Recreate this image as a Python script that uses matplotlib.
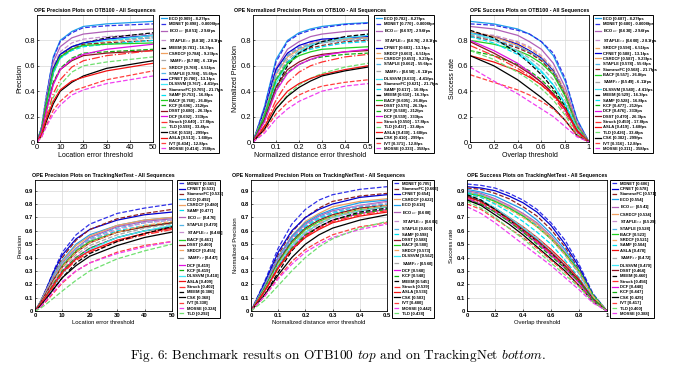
import matplotlib
matplotlib.use('Agg')
import matplotlib.pyplot as plt

plt.rcParams['font.family'] = ['Liberation Sans', 'DejaVu Sans']
plt.rcParams['mathtext.fontset'] = 'cm'

# ---------------- tracker styles ----------------
styles = {
    'ECO': ('#1EA0EA', '-'), 'MDNET': ('#3030E8', '--'), 'ECO_HC': ('#B060B8', '-'),
    'STAPLE_CA': ('#C890D0', '--'), 'MEEM': ('#000000', '--'), 'CSRDCF': ('#F0A060', '-'),
    'SAMF_AT': ('#A8A8A8', '--'), 'SRDCF': ('#F4A460', '--'), 'STAPLE': ('#50B4E8', '--'),
    'CFNET': ('#0000D0', '-'), 'DLSSVM': ('#40E8F8', '-'), 'SiameseFC': ('#902020', '--'),
    'SAMF': ('#00E0F0', '--'), 'BACF': ('#20D020', '-'), 'KCF': ('#10B010', '--'),
    'DSST': ('#901020', '-'), 'DCF': ('#E010E0', '-'), 'Struck': ('#FF3030', '-.'),
    'TLD': ('#70E070', '--'), 'CSK': ('#000000', '-'), 'ASLA': ('#F01010', '-'),
    'IVT': ('#FF4040', '--'), 'MOSSE': ('#F040F0', '--'),
}
fps = {
    'ECO': '8.27', 'MDNET': '0.8008', 'ECO_HC': '29.6', 'STAPLE_CA': '28.1', 'MEEM': '16.3',
    'CSRDCF': '9.23', 'SAMF_AT': '6.11', 'SRDCF': '6.51', 'STAPLE': '55.6', 'CFNET': '13.1',
    'DLSSVM': '4.41', 'SiameseFC': '21.7', 'SAMF': '16.8', 'BACF': '26.8', 'KCF': '212',
    'DSST': '26.3', 'DCF': '333', 'Struck': '17.8', 'TLD': '33.4', 'CSK': '299',
    'ASLA': '1.68', 'IVT': '12.8', 'MOSSE': '358',
}
display = {'ECO_HC': 'ECO$_{HC}$', 'STAPLE_CA': 'STAPLE$_{CA}$', 'SAMF_AT': 'SAMF$_{AT}$'}

# ---------------- OTB100 precision ----------------
x_otb_prec = [0, 2, 4, 7, 10, 15, 20, 30, 50]
otb_prec_names = ['ECO', 'MDNET', 'ECO_HC', 'STAPLE_CA', 'MEEM', 'CSRDCF', 'SAMF_AT', 'SRDCF',
                  'STAPLE', 'CFNET', 'DLSSVM', 'SiameseFC', 'SAMF', 'BACF', 'KCF', 'DSST', 'DCF',
                  'Struck', 'TLD', 'CSK', 'ASLA', 'IVT', 'MOSSE']
otb_prec_scores = [0.909, 0.898, 0.851, 0.810, 0.781, 0.784, 0.780, 0.768, 0.784, 0.780, 0.767,
                   0.765, 0.753, 0.760, 0.696, 0.680, 0.692, 0.640, 0.598, 0.518, 0.513, 0.434, 0.414]
otb_prec_curves = [
    [0, .12, .36, .67, .80, .87, .91, .93, .95],
    [0, .12, .36, .66, .79, .86, .90, .915, .93],
    [0, .11, .34, .63, .75, .82, .85, .87, .89],
    [0, .10, .32, .60, .71, .78, .81, .83, .85],
    [0, .09, .28, .54, .67, .75, .78, .82, .86],
    [0, .10, .31, .58, .69, .75, .78, .81, .84],
    [0, .10, .31, .58, .69, .75, .78, .80, .83],
    [0, .10, .31, .57, .68, .74, .77, .79, .82],
    [0, .10, .31, .58, .69, .75, .78, .80, .82],
    [0, .10, .31, .58, .69, .75, .78, .81, .84],
    [0, .09, .28, .54, .66, .73, .77, .80, .84],
    [0, .10, .30, .56, .67, .73, .77, .78, .80],
    [0, .09, .29, .55, .66, .72, .75, .77, .80],
    [0, .10, .30, .56, .67, .73, .76, .77, .78],
    [0, .08, .25, .47, .58, .66, .70, .71, .73],
    [0, .08, .25, .46, .57, .64, .68, .70, .72],
    [0, .08, .24, .45, .57, .65, .69, .73, .77],
    [0, .06, .20, .38, .49, .59, .64, .68, .72],
    [0, .06, .18, .35, .45, .55, .60, .63, .67],
    [0, .05, .16, .30, .40, .47, .52, .58, .64],
    [0, .06, .18, .32, .41, .48, .51, .56, .62],
    [0, .04, .13, .25, .32, .40, .43, .49, .56],
    [0, .04, .12, .22, .29, .37, .41, .46, .52],
]

# ---------------- OTB100 normalized precision ----------------
x_otb_norm = [0, .05, .1, .15, .2, .25, .3, .4, .5]
otb_norm_names = ['ECO', 'MDNET', 'ECO_HC', 'STAPLE_CA', 'CFNET', 'SRDCF', 'CSRDCF', 'STAPLE',
                  'SAMF_AT', 'DLSSVM', 'SiameseFC', 'SAMF', 'MEEM', 'BACF', 'DSST', 'KCF', 'DCF',
                  'Struck', 'TLD', 'ASLA', 'CSK', 'IVT', 'MOSSE']
otb_norm_scores = [0.782, 0.770, 0.697, 0.676, 0.683, 0.663, 0.653, 0.662, 0.650, 0.633, 0.621,
                   0.617, 0.610, 0.605, 0.575, 0.560, 0.559, 0.550, 0.437, 0.430, 0.410, 0.371, 0.333]
otb_norm_curves = [
    [0, .28, .65, .80, .86, .89, .91, .93, .94],
    [0, .27, .63, .79, .85, .88, .90, .925, .935],
    [0, .25, .58, .73, .79, .83, .85, .87, .88],
    [0, .24, .55, .69, .75, .78, .80, .82, .83],
    [0, .25, .57, .70, .76, .79, .81, .82, .83],
    [0, .23, .54, .68, .74, .77, .79, .81, .82],
    [0, .22, .53, .67, .73, .77, .79, .81, .82],
    [0, .23, .54, .68, .74, .77, .78, .80, .81],
    [0, .21, .50, .65, .72, .76, .78, .81, .82],
    [0, .19, .46, .62, .71, .76, .79, .82, .84],
    [0, .21, .49, .63, .70, .74, .76, .79, .80],
    [0, .21, .49, .63, .70, .73, .75, .78, .79],
    [0, .17, .43, .60, .70, .75, .79, .83, .85],
    [0, .21, .49, .62, .68, .71, .73, .74, .75],
    [0, .18, .43, .57, .63, .67, .69, .71, .72],
    [0, .17, .41, .55, .61, .65, .67, .69, .70],
    [0, .16, .40, .54, .61, .65, .68, .71, .73],
    [0, .13, .33, .47, .55, .60, .63, .67, .69],
    [0, .10, .26, .37, .45, .50, .54, .59, .62],
    [0, .12, .29, .40, .46, .50, .53, .57, .60],
    [0, .10, .26, .36, .43, .48, .52, .56, .59],
    [0, .09, .22, .31, .37, .41, .44, .47, .49],
    [0, .07, .18, .26, .32, .36, .40, .44, .46],
]

# ---------------- OTB100 success ----------------
x_otb_succ = [0, .2, .4, .5, .6, .7, .8, .9, 1]
otb_succ_names = ['ECO', 'MDNET', 'ECO_HC', 'STAPLE_CA', 'SRDCF', 'CFNET', 'CSRDCF', 'STAPLE',
                  'SiameseFC', 'BACF', 'SAMF_AT', 'DLSSVM', 'MEEM', 'SAMF', 'KCF', 'DCF', 'DSST',
                  'Struck', 'ASLA', 'TLD', 'CSK', 'IVT', 'MOSSE']
otb_succ_scores = [0.687, 0.680, 0.630, 0.600, 0.598, 0.588, 0.587, 0.578, 0.568, 0.557, 0.549,
                   0.540, 0.529, 0.528, 0.477, 0.476, 0.470, 0.459, 0.419, 0.426, 0.382, 0.316, 0.311]
otb_succ_curves = [
    [.95, .93, .89, .85, .79, .68, .48, .18, 0],
    [.93, .92, .88, .85, .79, .70, .50, .17, 0],
    [.91, .89, .84, .79, .73, .62, .43, .15, 0],
    [.86, .84, .79, .75, .68, .58, .40, .14, 0],
    [.85, .83, .78, .74, .67, .57, .40, .14, 0],
    [.86, .83, .77, .72, .66, .56, .38, .13, 0],
    [.87, .83, .76, .71, .65, .55, .38, .13, 0],
    [.84, .81, .75, .71, .65, .55, .37, .12, 0],
    [.83, .80, .74, .70, .64, .54, .37, .12, 0],
    [.80, .77, .72, .68, .62, .53, .36, .12, 0],
    [.85, .80, .72, .66, .59, .49, .33, .11, 0],
    [.86, .81, .71, .64, .56, .45, .30, .09, 0],
    [.88, .82, .70, .62, .53, .42, .28, .08, 0],
    [.83, .78, .69, .63, .55, .45, .30, .10, 0],
    [.72, .68, .61, .56, .49, .40, .27, .09, 0],
    [.80, .72, .62, .55, .47, .38, .25, .08, 0],
    [.79, .70, .60, .54, .47, .38, .26, .09, 0],
    [.76, .68, .58, .52, .45, .36, .23, .07, 0],
    [.68, .63, .56, .51, .45, .37, .26, .09, 0],
    [.72, .65, .55, .49, .42, .33, .21, .06, 0],
    [.68, .60, .49, .42, .35, .27, .17, .05, 0],
    [.53, .47, .41, .37, .32, .26, .17, .05, 0],
    [.59, .48, .38, .32, .26, .20, .12, .04, 0],
]

# ---------------- TrackingNet precision ----------------
x_tn_prec = [0, 2, 4, 7, 10, 15, 20, 30, 40, 50]
tn_prec_names = ['MDNET', 'CFNET', 'SiameseFC', 'ECO', 'CSRDCF', 'SAMF', 'ECO_HC', 'STAPLE',
                 'STAPLE_CA', 'BACF', 'DSST', 'SRDCF', 'SAMF_AT', 'DCF', 'KCF', 'DLSSVM', 'ASLA',
                 'Struck', 'MEEM', 'CSK', 'IVT', 'MOSSE', 'TLD']
tn_prec_scores = [0.565, 0.533, 0.533, 0.492, 0.480, 0.477, 0.476, 0.470, 0.468, 0.461, 0.460,
                  0.455, 0.447, 0.419, 0.419, 0.418, 0.409, 0.402, 0.386, 0.368, 0.330, 0.324, 0.292]
tn_prec_curves = [
    [0, .07, .16, .31, .44, .57, .65, .73, .77, .80],
    [0, .07, .16, .30, .42, .54, .61, .68, .72, .74],
    [0, .06, .14, .28, .40, .53, .61, .69, .73, .76],
    [0, .07, .15, .28, .38, .50, .57, .64, .68, .70],
    [0, .07, .15, .27, .37, .49, .56, .64, .68, .70],
    [0, .06, .14, .25, .35, .46, .53, .60, .64, .66],
    [0, .06, .14, .26, .36, .47, .55, .63, .67, .69],
    [0, .06, .14, .26, .36, .47, .54, .62, .66, .68],
    [0, .06, .14, .25, .35, .46, .53, .61, .66, .68],
    [0, .06, .13, .24, .34, .45, .52, .59, .63, .66],
    [0, .06, .13, .24, .33, .44, .51, .59, .63, .66],
    [0, .05, .12, .23, .33, .44, .51, .59, .64, .67],
    [0, .05, .12, .22, .31, .42, .49, .57, .62, .65],
    [0, .05, .11, .21, .30, .40, .47, .55, .60, .63],
    [0, .05, .11, .21, .30, .40, .47, .55, .60, .63],
    [0, .04, .10, .19, .28, .39, .46, .55, .60, .64],
    [0, .05, .11, .20, .29, .39, .45, .53, .58, .62],
    [0, .05, .10, .19, .28, .38, .44, .52, .57, .61],
    [0, .03, .08, .17, .25, .36, .43, .52, .58, .63],
    [0, .04, .09, .17, .25, .34, .41, .49, .55, .59],
    [0, .03, .07, .14, .21, .30, .36, .44, .49, .52],
    [0, .03, .08, .15, .22, .30, .36, .43, .48, .52],
    [0, .02, .05, .10, .15, .23, .30, .39, .45, .50],
]

# ---------------- TrackingNet normalized precision ----------------
x_tn_norm = [0, .05, .1, .15, .2, .25, .3, .4, .5]
tn_norm_names = ['MDNET', 'SiameseFC', 'CFNET', 'CSRDCF', 'ECO', 'ECO_HC', 'STAPLE_CA', 'STAPLE',
                 'SAMF', 'DSST', 'BACF', 'SRDCF', 'DLSSVM', 'SAMF_AT', 'DCF', 'KCF', 'MEEM',
                 'Struck', 'ASLA', 'CSK', 'IVT', 'MOSSE', 'TLD']
tn_norm_scores = [0.705, 0.663, 0.654, 0.622, 0.618, 0.608, 0.605, 0.603, 0.598, 0.588, 0.580,
                  0.573, 0.562, 0.560, 0.548, 0.548, 0.545, 0.539, 0.536, 0.503, 0.480, 0.442, 0.438]
tn_norm_curves = [
    [0, .22, .47, .65, .76, .83, .87, .91, .93],
    [0, .19, .42, .59, .70, .77, .82, .86, .88],
    [0, .21, .44, .60, .70, .76, .80, .85, .87],
    [0, .19, .40, .56, .67, .73, .78, .82, .84],
    [0, .19, .40, .56, .66, .72, .76, .81, .83],
    [0, .18, .39, .55, .65, .71, .75, .79, .82],
    [0, .18, .39, .54, .64, .70, .74, .79, .81],
    [0, .18, .38, .54, .64, .70, .74, .78, .80],
    [0, .17, .37, .53, .63, .69, .73, .77, .79],
    [0, .17, .37, .52, .62, .68, .72, .77, .79],
    [0, .17, .36, .51, .61, .67, .71, .76, .78],
    [0, .16, .35, .50, .60, .66, .71, .76, .79],
    [0, .15, .34, .49, .59, .65, .70, .75, .78],
    [0, .15, .33, .48, .58, .65, .70, .75, .78],
    [0, .15, .33, .47, .57, .63, .68, .73, .76],
    [0, .15, .33, .47, .57, .63, .68, .73, .76],
    [0, .12, .29, .45, .56, .63, .68, .74, .77],
    [0, .14, .32, .46, .56, .62, .67, .72, .75],
    [0, .15, .32, .46, .55, .61, .66, .71, .74],
    [0, .12, .27, .40, .50, .57, .62, .68, .72],
    [0, .11, .25, .37, .46, .52, .57, .63, .66],
    [0, .11, .24, .35, .44, .50, .55, .61, .65],
    [0, .08, .19, .30, .40, .48, .54, .62, .67],
]

# ---------------- TrackingNet success ----------------
x_tn_succ = [0, .1, .2, .3, .4, .5, .6, .7, .8, .9, 1]
tn_succ_names = ['MDNET', 'CFNET', 'SiameseFC', 'ECO', 'ECO_HC', 'CSRDCF', 'STAPLE_CA', 'STAPLE',
                 'BACF', 'SRDCF', 'SAMF', 'ASLA', 'SAMF_AT', 'DLSSVM', 'DSST', 'MEEM', 'Struck',
                 'DCF', 'KCF', 'CSK', 'IVT', 'TLD', 'MOSSE']
tn_succ_scores = [0.606, 0.578, 0.571, 0.554, 0.541, 0.534, 0.529, 0.528, 0.523, 0.521, 0.504,
                  0.478, 0.472, 0.470, 0.464, 0.460, 0.456, 0.448, 0.447, 0.429, 0.417, 0.400, 0.388]
tn_succ_curves = [
    [.95, .94, .92, .88, .83, .76, .66, .53, .35, .13, 0],
    [.93, .92, .90, .86, .81, .74, .64, .50, .33, .12, 0],
    [.92, .91, .88, .84, .78, .71, .61, .48, .31, .11, 0],
    [.91, .89, .86, .81, .76, .68, .58, .46, .30, .11, 0],
    [.90, .88, .84, .79, .73, .66, .56, .44, .29, .10, 0],
    [.89, .87, .83, .78, .72, .65, .55, .43, .29, .11, 0],
    [.89, .87, .83, .78, .72, .64, .54, .42, .28, .10, 0],
    [.89, .87, .82, .77, .71, .64, .54, .42, .28, .10, 0],
    [.88, .86, .82, .77, .71, .63, .54, .43, .30, .12, 0],
    [.87, .85, .81, .76, .70, .63, .54, .42, .29, .11, 0],
    [.88, .85, .80, .74, .67, .59, .50, .38, .25, .09, 0],
    [.85, .82, .77, .70, .63, .55, .46, .36, .24, .09, 0],
    [.86, .83, .77, .70, .63, .55, .45, .35, .23, .08, 0],
    [.87, .83, .77, .70, .62, .54, .44, .34, .22, .08, 0],
    [.86, .82, .76, .69, .61, .53, .44, .34, .23, .09, 0],
    [.87, .83, .76, .68, .60, .52, .43, .33, .22, .08, 0],
    [.84, .81, .75, .68, .60, .52, .43, .33, .22, .08, 0],
    [.84, .80, .74, .67, .59, .51, .42, .32, .21, .08, 0],
    [.83, .80, .74, .67, .59, .50, .41, .32, .22, .09, 0],
    [.83, .79, .72, .65, .57, .48, .39, .30, .19, .07, 0],
    [.80, .76, .69, .62, .55, .47, .38, .29, .19, .07, 0],
    [.82, .77, .70, .62, .54, .45, .36, .27, .18, .07, 0],
    [.78, .73, .66, .58, .50, .42, .34, .25, .16, .06, 0],
]

W, H = 677, 380
fig = plt.figure(figsize=(W / 100, H / 100), dpi=100)


def frac(x0, y0, x1, y1):
    # pixel box (top-left origin) -> figure fraction rect
    return [x0 / W, 1 - y1 / H, (x1 - x0) / W, (y1 - y0) / H]


def panel(ax_box, leg_box, x, names, scores, curves, title, xlabel, ylabel,
          xticks, xticklabels, yticks, ylim, with_fps, bottom_row):
    ax = fig.add_axes(frac(*ax_box))
    for n, s, y in zip(names, scores, curves):
        c, ls = styles[n]
        lab = '%s [%.3f]' % (display.get(n, n), s)
        if with_fps:
            lab += ' - %sfps' % fps[n]
        ax.plot(x, y, color=c, linestyle=ls, lw=0.9, label=lab)
    ax.set_xlim(x[0], x[-1])
    ax.set_ylim(*ylim)
    ax.set_xticks(xticks)
    ax.set_xticklabels(xticklabels)
    ax.set_yticks(yticks)
    ax.set_yticklabels(['0'] + ['%.1f' % v for v in yticks[1:]])
    ax.grid(True, color='#d8d8d8', lw=0.5)
    ax.set_axisbelow(True)
    for sp in ax.spines.values():
        sp.set_linewidth(0.6)
    if bottom_row:
        ax.tick_params(labelsize=4.2, length=1.5, width=0.4, direction='in', pad=1.5)
        for t in ax.get_xticklabels() + ax.get_yticklabels():
            t.set_fontweight('bold')
        ax.set_xlabel(xlabel, fontsize=4.2, labelpad=1.5)
        ax.set_ylabel(ylabel, fontsize=4.2, labelpad=1.5)
    else:
        ax.tick_params(labelsize=5.5, length=1.5, width=0.4, direction='in', pad=1.5)
        ax.set_xlabel(xlabel, fontsize=5, labelpad=1)
        ax.set_ylabel(ylabel, fontsize=5, labelpad=1)
    ax.set_title(title, fontsize=3.8, fontweight='bold', pad=2)
    lb = frac(*leg_box)
    leg = ax.legend(loc='upper left', bbox_to_anchor=lb, bbox_transform=fig.transFigure,
                    mode='expand', borderaxespad=0, labelspacing=0.33,
                    handlelength=1.6, handletextpad=0.4, borderpad=0.4, fancybox=False,
                    framealpha=1, edgecolor='black', prop={'weight': 'bold', 'size': 3.0})
    leg.get_frame().set_linewidth(0.7)
    return ax


top = (15, 142)
bot = (180, 311)
prec_ticks = [0, 10, 20, 30, 40, 50]
norm_ticks = [0, 0.1, 0.2, 0.3, 0.4, 0.5]
succ_ticks = [0, 0.2, 0.4, 0.6, 0.8, 1]

panel((37, top[0], 153, top[1]), (159, 15, 219, 144), x_otb_prec, otb_prec_names,
      otb_prec_scores, otb_prec_curves, 'OPE Precision Plots on OTB100 - All Sequences',
      'Location error threshold', 'Precision', prec_ticks, [str(v) for v in prec_ticks],
      [0, 0.2, 0.4, 0.6, 0.8], (0, 1.0), True, False)
panel((253, top[0], 368, top[1]), (374, 15, 434, 144), x_otb_norm, otb_norm_names,
      otb_norm_scores, otb_norm_curves, 'OPE Normalized Precision Plots on OTB100 - All Sequences',
      'Normalized distance error threshold', 'Normalized Precision', norm_ticks,
      ['0', '0.1', '0.2', '0.3', '0.4', '0.5'], [0, 0.2, 0.4, 0.6, 0.8], (0, 1.0), True, False)
panel((470, top[0], 589, top[1]), (593, 15, 653, 144), x_otb_succ, otb_succ_names,
      otb_succ_scores, otb_succ_curves, 'OPE Success Plots on OTB100 - All Sequences',
      'Overlap threshold', 'Success rate', succ_ticks, ['0', '0.2', '0.4', '0.6', '0.8', '1'],
      [0, 0.2, 0.4, 0.6, 0.8], (0, 1.0), True, False)

yt_b = [0, 0.1, 0.2, 0.3, 0.4, 0.5, 0.6, 0.7, 0.8, 0.9]
panel((35, bot[0], 172, bot[1]), (177, 180, 220, 309), x_tn_prec, tn_prec_names,
      tn_prec_scores, tn_prec_curves, 'OPE Precision Plots on TrackingNetTest - All Sequences',
      'Location error threshold', 'Precision', prec_ticks, [str(v) for v in prec_ticks],
      yt_b, (0, 0.98), False, True)
panel((251, bot[0], 387, bot[1]), (392, 180, 434, 309), x_tn_norm, tn_norm_names,
      tn_norm_scores, tn_norm_curves, 'OPE Normalized Precision Plots on TrackingNetTest - All Sequences',
      'Normalized distance error threshold', 'Normalized Precision', norm_ticks,
      ['0', '0.1', '0.2', '0.3', '0.4', '0.5'], yt_b, (0, 0.98), False, True)
panel((467, bot[0], 607, bot[1]), (610, 180, 654, 309), x_tn_succ, tn_succ_names,
      tn_succ_scores, tn_succ_curves, 'OPE Success Plots on TrackingNetTest - All Sequences',
      'Overlap threshold', 'Success rate', succ_ticks, ['0', '0.2', '0.4', '0.6', '0.8', '1'],
      yt_b, (0, 0.98), False, True)

fig.text(338 / W, 1 - 356 / H,
         r'Fig. 6: Benchmark results on OTB100 $\mathit{top}$ and on TrackingNet $\mathit{bottom}$.',
         ha='center', va='center', fontsize=9.6, family=['cmr10', 'DejaVu Serif'])

fig.savefig('out.png', dpi=100)
